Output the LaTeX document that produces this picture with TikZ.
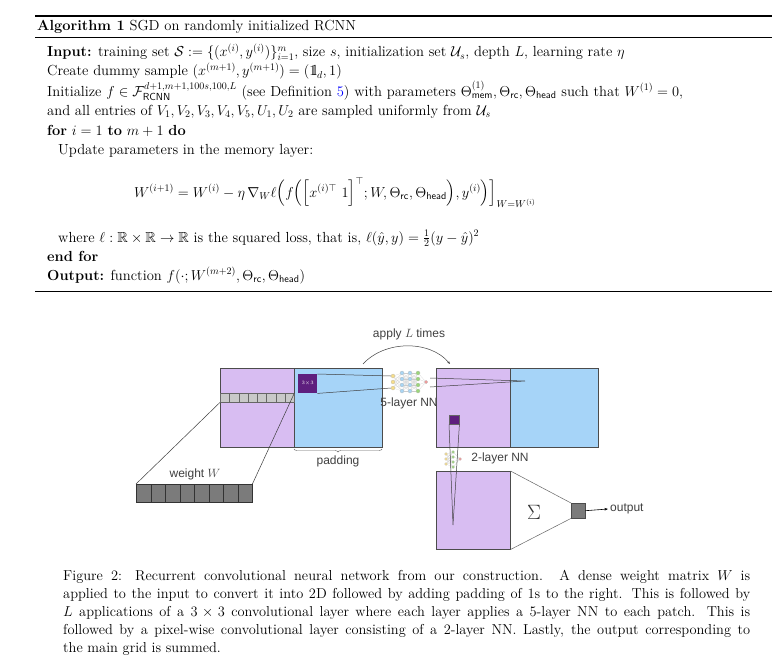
\documentclass[tikz,border=0pt]{standalone}
\usepackage{amsmath,amssymb}
\usepackage{fontspec}
\newfontfamily\dsans{Liberation Sans}
\usetikzlibrary{decorations.pathreplacing,arrows.meta}
\newcommand{\onevec}{\mathrm{1\kern-0.23em l}}
\definecolor{lpur}{HTML}{D8BDF2}
\definecolor{lblu}{HTML}{A6D4F8}
\definecolor{dpur}{HTML}{5E1F7E}
\definecolor{lgry}{HTML}{C9C9C9}
\definecolor{dgry}{HTML}{7B7B7B}
\definecolor{nny}{HTML}{F7DE8A}
\definecolor{nnb}{HTML}{A9D6F5}
\definecolor{nng}{HTML}{9BD67A}
\definecolor{nnp}{HTML}{F29A9A}
\tikzset{
  alg/.style={anchor=base west,inner sep=0pt,font=\fontsize{14.6}{18}\selectfont},
  lab/.style={inner sep=0pt,font=\dsans\fontsize{12}{13}\selectfont,text=black!75},
  thin/.style={draw=black!75,line width=0.5pt},
  neu/.style={circle,inner sep=0pt,minimum size=4pt,draw=black!30,line width=0.2pt}
}
\begin{document}
\begin{tikzpicture}[x=1pt,y=-1pt]
\useasboundingbox (0,0) rectangle (783,658);
\fill[white] (0,0) rectangle (783,658);
% algorithm rules
\draw[line width=1.2pt] (35,16) -- (772,16);
\draw[line width=0.6pt] (35,37) -- (772,37);
\draw[line width=0.6pt] (35,291) -- (772,291);
\node[alg] (t) at (37,31) {\textbf{Algorithm 1} SGD on randomly initialized RCNN};
\node[alg] (l1) at (47,57) {\textbf{Input:} training set $\mathcal{S}:=\{(x^{(i)},y^{(i)})\}_{i=1}^{m}$, size $s$, initialization set $\mathcal{U}_s$, depth $L$, learning rate $\eta$};
\node[alg] (l2) at (47,76) {Create dummy sample $(x^{(m+1)},y^{(m+1)})=(\onevec_d,1)$};
\node[alg] (l3) at (47,96) {Initialize $f\in\mathcal{F}_{\textsf{RCNN}}^{d+1,m+1,100s,100,L}$ (see Definition \textcolor{blue}{5}) with parameters $\Theta^{(1)}_{\textsf{mem}},\Theta_{\textsf{rc}},\Theta_{\textsf{head}}$ such that $W^{(1)}=0$,};
\node[alg] (l4) at (47,115) {and all entries of $V_1,V_2,V_3,V_4,V_5,U_1,U_2$ are sampled uniformly from $\mathcal{U}_s$};
\node[alg] (l5) at (47,135) {\textbf{for} $i=1$ \textbf{to} $m+1$ \textbf{do}};
\node[alg] (l6) at (58,154) {Update parameters in the memory layer:};
\node[alg] (l7) at (134,197) {$\displaystyle W^{(i+1)}=W^{(i)}-\eta\,\nabla_W\ell\Bigl(f\Bigl(\Bigl[x^{(i)\top}\ 1\Bigr]^{\top};W,\Theta_{\textsf{rc}},\Theta_{\textsf{head}}\Bigr),y^{(i)}\Bigr)\Bigr]_{W=W^{(i)}}$};
\node[alg] (l8) at (58,242) {where $\ell:\mathbb{R}\times\mathbb{R}\to\mathbb{R}$ is the squared loss, that is, $\ell(\hat y,y)=\frac{1}{2}(y-\hat y)^2$};
\node[alg] (l9) at (47,261) {\textbf{end for}};
\node[alg] (l10) at (47,280) {\textbf{Output:} function $f(\cdot;W^{(m+2)},\Theta_{\textsf{rc}},\Theta_{\textsf{head}})$};
% ---- diagram
\node[draw=black!70,fill=lpur,minimum width=74,minimum height=79,inner sep=0,anchor=north west,line width=0.5pt] (p1) at (220,368) {};
\node[draw=black!70,fill=lblu,minimum width=88,minimum height=79,inner sep=0,anchor=north west,line width=0.5pt] (b1) at (294,368) {};
\foreach \i in {0,...,7}{\node[draw=black!60,fill=lgry,minimum width=9.25,minimum height=9,inner sep=0,anchor=north west,line width=0.4pt] (s\i) at (220+\i*9.25,393) {};}
\foreach \i in {0,...,7}{\node[draw=black!80,fill=dgry,minimum width=14.5,minimum height=18,inner sep=0,anchor=north west,line width=0.4pt] (w\i) at (136+\i*14.5,484) {};}
\draw[thin] (s0.south west) -- (w0.north west);
\draw[thin] (s7.north east) -- (w7.north east);
\node[lab] (wl) at (195,474) {weight $W$};
\node[fill=dpur,minimum width=19,minimum height=19,inner sep=0,anchor=north west,text=white,font=\fontsize{5}{6}\selectfont] (k) at (298,374) {3$\times$3};
\draw[decorate,decoration={brace,mirror,amplitude=3pt},draw=black!60] (294,449) -- (382,449);
\node[lab] (pad) at (338,461) {padding};
% 5-layer NN
\foreach \j in {0,1,2}{\node[neu,fill=nny] (a\j) at (393,376+\j*6) {};}
\foreach \j in {0,1,2,3}{\node[neu,fill=nnb] (b\j) at (402,373+\j*6) {};}
\foreach \j in {0,1,2,3}{\node[neu,fill=nnb] (c\j) at (410,373+\j*6) {};}
\foreach \j in {0,1,2,3}{\node[neu,fill=nng] (d\j) at (418,373+\j*6) {};}
\node[neu,fill=nnp,minimum size=3.5pt] (e0) at (426,382) {};
\foreach \p in {0,1,2}{\foreach \q in {0,1,2,3}{\draw[black!20,line width=0.15pt] (a\p)--(b\q);}}
\foreach \p in {0,1,2,3}{\foreach \q in {0,1,2,3}{\draw[black!20,line width=0.15pt] (b\p)--(c\q) (c\p)--(d\q);}}
\foreach \p in {0,1,2,3}{\draw[black!20,line width=0.15pt] (d\p)--(e0);}
\draw[thin] (k.north east) -- (a0.west);
\draw[thin] (k.south east) -- (a2.west);
\node[lab] (nn5) at (409,403) {5-layer NN};
% right grid
\node[draw=black!70,fill=lpur,minimum width=74,minimum height=79,inner sep=0,anchor=north west,line width=0.5pt] (p2) at (436,368) {};
\node[draw=black!70,fill=lblu,minimum width=88,minimum height=79,inner sep=0,anchor=north west,line width=0.5pt] (b2) at (510,368) {};
\coordinate (tgt) at (525,381);
\coordinate (o1) at (430,378);
\coordinate (o2) at (430,387);
\draw[thin] (o1) -- (tgt) -- (o2);
\coordinate (arcA) at (363,364);
\coordinate (arcB) at (450,364);
\draw[black!75,line width=0.5pt,-{Stealth[length=3pt]}] (arcA) .. controls (385,340) and (430,340) .. (arcB);
\node[lab] (apl) at (409,334) {apply $L$ times};
% small square and 2-layer NN
\node[fill=dpur,draw=black!60,minimum width=10,minimum height=9,inner sep=0,anchor=north west] (sq) at (449,415) {};
\foreach \j in {0,1,2}{\node[neu,fill=nny,minimum size=3pt] (f\j) at (446,454+\j*5) {};}
\foreach \j in {0,1,2,3}{\node[neu,fill=nng,minimum size=3pt] (g\j) at (453,452+\j*5) {};}
\node[neu,fill=nnp,minimum size=3pt] (h0) at (460,459) {};
\foreach \p in {0,1,2}{\foreach \q in {0,1,2,3}{\draw[black!20,line width=0.15pt] (f\p)--(g\q);}}
\foreach \p in {0,1,2,3}{\draw[black!20,line width=0.15pt] (g\p)--(h0);}
\node[lab] (nn2) at (500,458) {2-layer NN};
\node[draw=black!70,fill=lpur,minimum width=74,minimum height=78,inner sep=0,anchor=north west,line width=0.5pt] (p3) at (436,471) {};
\coordinate (tip) at (453,525);
\draw[thin] (sq.south west) -- (tip) -- (sq.south east);
\node[draw=black!70,fill=dgry,minimum width=14,minimum height=15,inner sep=0,anchor=north west] (ob) at (571,503) {};
\draw[thin,draw=black!60] (p3.north east) -- (ob.north west);
\draw[thin,draw=black!60] (p3.south east) -- (ob.south west);
\node[font=\fontsize{22}{22}\selectfont,text=black!80] (sig) at (534,512) {$\Sigma$};
\node[lab,anchor=west] (out) at (610,509) {output};
\draw[black,line width=0.6pt,-{Stealth[length=3.5pt]}] (ob.east) -- ([xshift=-2pt]out.west);
% caption
\node[anchor=north west,inner sep=0pt,text width=687,align=justify,font=\fontsize{14.4}{18}\selectfont] (cap) at (63,570) {Figure 2: Recurrent convolutional neural network from our construction. A dense weight matrix $W$ is\linebreak applied to the input to convert it into 2D followed by adding padding of 1s to the right. This is followed by\linebreak $L$ applications of a $3\times3$ convolutional layer where each layer applies a 5-layer NN to each patch. This is\linebreak followed by a pixel-wise convolutional layer consisting of a 2-layer NN. Lastly, the output corresponding to\linebreak the main grid is summed.};
\end{tikzpicture}
\end{document}
